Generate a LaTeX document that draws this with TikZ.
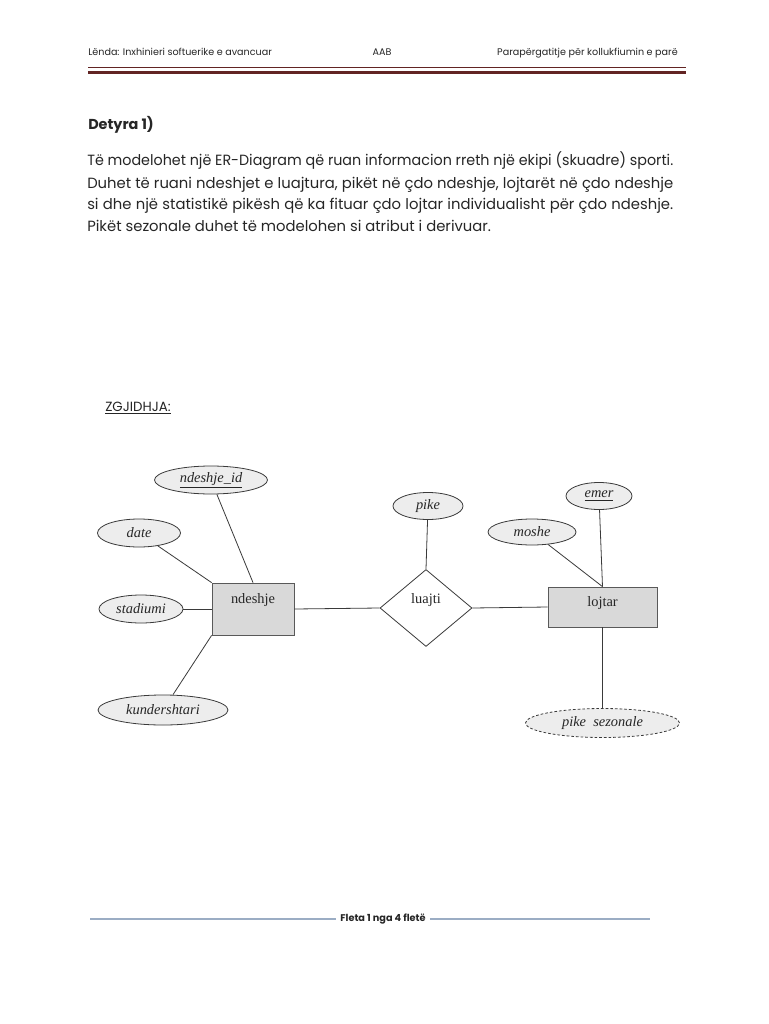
\documentclass[tikz,border=0pt]{standalone}
\usepackage{fontspec}
\usepackage{graphicx}
\setmainfont{Poppins}
\newfontfamily\tnr{Liberation Serif}
\usetikzlibrary{shapes.geometric}
\definecolor{maroon}{HTML}{622423}
\definecolor{footblue}{HTML}{9BADC4}
\definecolor{attrfill}{HTML}{EDEDED}
\definecolor{entfill}{HTML}{D9D9D9}
\definecolor{lnc}{HTML}{3A3A3A}
\definecolor{txt}{HTML}{262626}
\begin{document}
\begin{tikzpicture}[x=0.75pt,y=-0.75pt,
  attr/.style={ellipse, draw=lnc, fill=attrfill, line width=0.6pt, inner sep=0pt,
    font=\tnr\itshape\fontsize{10.8}{12}\selectfont, text=txt},
  derived/.style={attr, dash pattern=on 2pt off 1.5pt},
  ent/.style={rectangle, draw=gray!70!black, fill=entfill, line width=0.6pt, inner sep=0pt},
  rel/.style={diamond, draw=lnc, fill=white, line width=0.6pt, inner sep=0pt},
  lbl/.style={font=\tnr\fontsize{10.8}{12}\selectfont, inner sep=0pt, text=txt},
  conn/.style={draw=lnc, line width=0.6pt},
  hdr/.style={font=\fontsize{7.2}{8}\selectfont, inner sep=0pt, text=txt},
  body/.style={font=\fontsize{11.1}{13}\selectfont, inner sep=0pt, anchor=base west, text=txt},
]
\useasboundingbox[fill=white] (0,0) rectangle (768,1024);

% header
\node[hdr, anchor=base west] (h1) at (88,56) {Lënda: Inxhinieri softuerike e avancuar};
\node[hdr, anchor=base] (h2) at (382,56) {AAB};
\node[hdr, anchor=base east] (h3) at (678,56) {Parapërgatitje për kollukfiumin e parë};
\draw[maroon, line width=0.6pt] (88,67) -- (686,67);
\draw[maroon, line width=2.7pt] (88,72.5) -- (686,72.5);

% title and task text
\node[body, font=\bfseries\fontsize{10.8}{12}\selectfont] (t0) at (88,129) {Detyra 1)};
\node[body] (t1) at (87,166) {\resizebox{439.5pt}{\height}{Të modelohet një ER-Diagram që ruan informacion rreth një ekipi (skuadre) sporti.}};
\node[body] (t2) at (87,188) {\makebox[439.5pt][s]{Duhet të ruani ndeshjet e luajtura, pikët në çdo ndeshje, lojtarët në çdo ndeshje}};
\node[body] (t3) at (87,209) {\makebox[439.5pt][s]{si dhe një statistikë pikësh që ka fituar çdo lojtar individualisht për çdo ndeshje.}};
\node[body] (t4) at (87,231) {Pikët sezonale duhet të modelohen si atribut i derivuar.};

\node[body, font=\fontsize{10}{12}\selectfont] (zg) at (105,411) {\underline{ZGJIDHJA:}};

% ER diagram
\node[ent, minimum width=61.5pt, minimum height=39pt] (nd) at (253,609) {};
\node[lbl] (ndt) at (253,600) {ndeshje};
\node[ent, minimum width=81.75pt, minimum height=30pt] (lo) at (602.5,607) {};
\node[lbl] (lot) at (602.5,603) {lojtar};
\node[rel, minimum width=69pt, minimum height=57.75pt] (re) at (426,608) {};
\node[lbl] (ret) at (426,600) {luajti};

\node[attr, minimum width=84.75pt, minimum height=21pt] (nid) at (211,480) {\underline{ndeshje\_id}};
\node[attr, minimum width=62.25pt, minimum height=21pt] (date) at (139,533) {date};
\node[attr, minimum width=63pt, minimum height=21pt] (stad) at (141,609) {stadiumi};
\node[attr, minimum width=97.5pt, minimum height=22.5pt] (kund) at (163,710) {kundershtari};
\node[attr, minimum width=52.5pt, minimum height=20.25pt] (pike) at (428,506) {pike};
\node[attr, minimum width=49.5pt, minimum height=20.25pt] (emer) at (599,496) {\underline{emer}};
\node[attr, minimum width=66pt, minimum height=19.5pt] (mosh) at (532,532) {moshe};
\node[derived, minimum width=115.5pt, minimum height=21.75pt] (pks) at (602.5,723) {pike\ \ sezonale};

\draw[conn] (nid) -- (nd.north);
\draw[conn] (date) -- (nd.north west);
\draw[conn] (stad) -- (nd.west);
\draw[conn] (kund) -- (nd.south west);
\draw[conn] (nd.east) -- (re.west);
\draw[conn] (pike) -- (re.north);
\draw[conn] (re.east) -- (lo.west);
\draw[conn] (emer) -- (lo.north);
\draw[conn] (mosh) -- (lo.north);
\draw[conn] (lo.south) -- (pks.north);

% footer
\node[hdr, font=\bfseries\fontsize{7.3}{8}\selectfont] (ft) at (383,919) {Fleta 1 nga 4 fletë};
\coordinate (fl1) at (90,919);
\coordinate (fr2) at (650,919);
\draw[footblue, line width=1pt] (fl1) -- ([xshift=-3pt]ft.west);
\draw[footblue, line width=1pt] ([xshift=3pt]ft.east) -- (fr2);
\end{tikzpicture}
\end{document}
